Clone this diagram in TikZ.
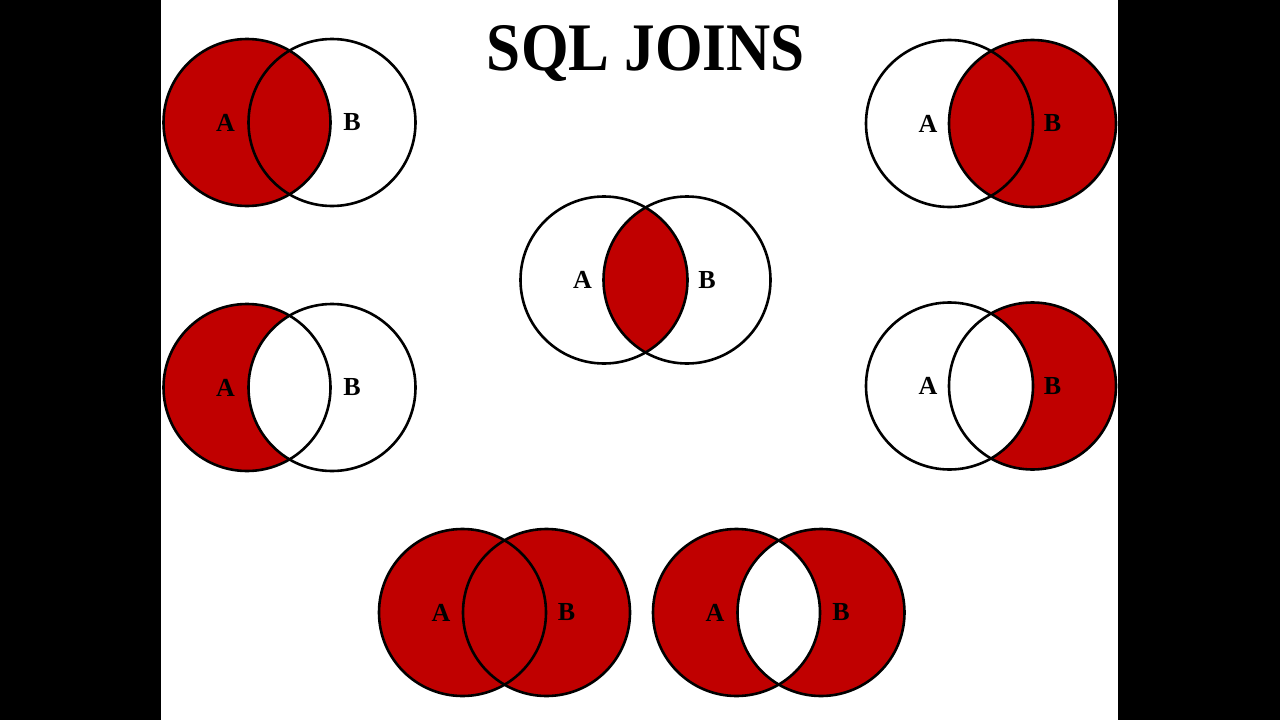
\documentclass[tikz,border=0pt]{standalone}
\usepackage{fontspec}
\setmainfont{Liberation Serif}
\usetikzlibrary{positioning,calc}
\definecolor{joinRed}{RGB}{192,0,0}
\tikzset{
  vennRing/.style={
    draw=black,
    line width=2.6pt
  },
  joinFill/.style={
    fill=joinRed
  },
  clearFill/.style={
    fill=white
  },
  setLabel/.style={
    font=\fontsize{26}{26}\selectfont\bfseries,
    text=black,
    inner sep=0pt
  },
  titleText/.style={
    font=\fontsize{68}{68}\selectfont\bfseries,
    text=black,
    inner sep=0pt,
    anchor=base
  }
}
\newcommand{\vennR}{83.5pt}
% two rings with their A / B labels
\newcommand{\joinRings}[2]{%
  \draw[vennRing] (#1) circle[radius=\vennR];
  \draw[vennRing] (#2) circle[radius=\vennR];
  \node[setLabel] (#1lab) at ([xshift=-21.5pt]#1) {A};
  \node[setLabel] (#2lab) at ([xshift=20pt]#2) {B};
}

\begin{document}
\begin{tikzpicture}[x=1pt,y=-1pt]
  \useasboundingbox (0,0) rectangle (1280,720);
  \fill[black] (0,0) rectangle (1280,720);
  \fill[white] (161,0) rectangle (1118,720);

  \node[titleText] (title) at (646,70) {\scalebox{0.9}[1]{SQL JOINS}};

  % centres of the circles
  \coordinate (tlA) at (247,122.5);
  \coordinate (tlB) at (332,122.5);
  \coordinate (trA) at (949.5,123.5);
  \coordinate (trB) at (1032.5,123.5);
  \coordinate (inA) at (604,280);
  \coordinate (inB) at (687,280);
  \coordinate (mlA) at (247,387.5);
  \coordinate (mlB) at (332,387.5);
  \coordinate (mrA) at (949.5,386);
  \coordinate (mrB) at (1032.5,386);
  \coordinate (fuA) at (462.5,612.5);
  \coordinate (fuB) at (546.5,612.5);
  \coordinate (exA) at (736.5,612.5);
  \coordinate (exB) at (821,612.5);

  % left join
  \fill[joinFill] (tlA) circle[radius=\vennR];
  \joinRings{tlA}{tlB}

  % right join
  \fill[joinFill] (trB) circle[radius=\vennR];
  \joinRings{trA}{trB}

  % inner join
  \begin{scope}
    \clip (inA) circle[radius=\vennR];
    \fill[joinFill] (inB) circle[radius=\vennR];
  \end{scope}
  \joinRings{inA}{inB}

  % left only
  \fill[joinFill] (mlA) circle[radius=\vennR];
  \begin{scope}
    \clip (mlA) circle[radius=\vennR];
    \fill[clearFill] (mlB) circle[radius=\vennR];
  \end{scope}
  \joinRings{mlA}{mlB}

  % right only
  \fill[joinFill] (mrB) circle[radius=\vennR];
  \begin{scope}
    \clip (mrB) circle[radius=\vennR];
    \fill[clearFill] (mrA) circle[radius=\vennR];
  \end{scope}
  \joinRings{mrA}{mrB}

  % full join
  \fill[joinFill] (fuA) circle[radius=\vennR];
  \fill[joinFill] (fuB) circle[radius=\vennR];
  \joinRings{fuA}{fuB}

  % full join without the overlap
  \fill[joinFill] (exA) circle[radius=\vennR];
  \fill[joinFill] (exB) circle[radius=\vennR];
  \begin{scope}
    \clip (exA) circle[radius=\vennR];
    \fill[clearFill] (exB) circle[radius=\vennR];
  \end{scope}
  \joinRings{exA}{exB}
\end{tikzpicture}
\end{document}
